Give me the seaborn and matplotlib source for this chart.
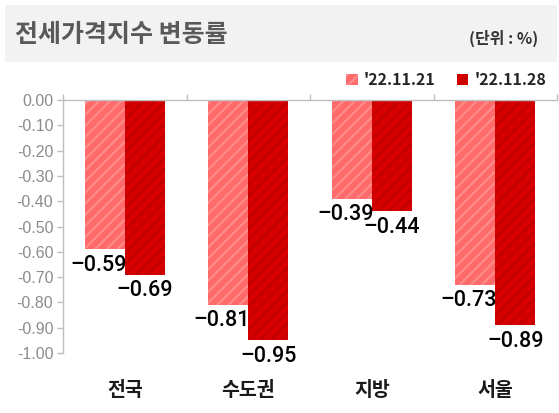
import pandas as pd
import matplotlib.pyplot as plt
import seaborn as sns
from matplotlib.patches import Rectangle, Patch

# 데이터
regions = ['전국', '수도권', '지방', '서울']
weeks = ["'22.11.21", "'22.11.28"]
week1 = [-0.59, -0.81, -0.39, -0.73]
week2 = [-0.69, -0.95, -0.44, -0.89]
yticks = [0.0, -0.1, -0.2, -0.3, -0.4, -0.5, -0.6, -0.7, -0.8, -0.9, -1.0]

df = pd.DataFrame({
    'region': regions * 2,
    'week': [weeks[0]] * 4 + [weeks[1]] * 4,
    'value': week1 + week2,
})

sns.set_style('white')
plt.rcParams['font.family'] = ['Noto Sans CJK KR', 'DejaVu Sans']
plt.rcParams['hatch.linewidth'] = 1.6

colores = ['#FF6B6B', '#D60000']
hatch_col = ['#FF8A8A', '#C20000']

fig = plt.figure(figsize=(5.59, 4.13), dpi=100)
ax = fig.add_axes([63 / 559, 1 - 353 / 413, 494 / 559, 253 / 413])

sns.barplot(data=df, x='region', y='value', hue='week', palette=colores,
            width=0.645, saturation=1, legend=False, ax=ax)

for i, cont in enumerate(ax.containers):
    for bar in cont:
        bar.set_hatch('///')
        bar.set_edgecolor(hatch_col[i])
        bar.set_linewidth(0)
    vals = week1 if i == 0 else week2
    dx = -4.5 if i == 0 else 0
    for bar, v in zip(cont, vals):
        ax.annotate(f'{v:.2f}'.replace('-', '\u2013'),
                    (bar.get_x() + bar.get_width() / 2, v),
                    xytext=(dx, -4), textcoords='offset points',
                    ha='center', va='top', fontsize=15.5, fontweight='medium',
                    family='Roboto', color='black')

ax.set_ylim(-1.0, 0.0)
ax.set_xlim(-0.5, 3.5)
ax.set_yticks(yticks)
ax.set_yticklabels([f'{t:.2f}' if t != 0 else '0.00' for t in yticks],
                   family=['Liberation Sans', 'DejaVu Sans'], fontsize=11.5,
                   color='#8C8C8C')
ax.set_xlabel('')
ax.set_ylabel('')

ax.set_xticks([-0.5, 0.5, 1.5, 2.5, 3.5], minor=True)
ax.tick_params(axis='x', which='major', length=0, pad=20, labelsize=14)
ax.tick_params(axis='x', which='minor', top=True, bottom=False,
               direction='out', length=4, color='#BFBFBF', width=1)
ax.tick_params(axis='y', left=True, direction='out', length=4,
               color='#BFBFBF', width=1, pad=3)
for lab in ax.get_xticklabels():
    lab.set_fontweight('bold')
    lab.set_color('#1A1A1A')

for s in ['right', 'bottom']:
    ax.spines[s].set_visible(False)
for s in ['left', 'top']:
    ax.spines[s].set_color('#BFBFBF')
    ax.spines[s].set_linewidth(1)

# 제목 영역
fig.patches.append(Rectangle((5 / 559, 1 - 62 / 413), 552 / 559, 57 / 413,
                             transform=fig.transFigure, facecolor='#F2F2F2',
                             edgecolor='none', zorder=0))
fig.text(15 / 559, 1 - 35 / 413, '전세가격지수 변동률', fontsize=18,
         fontweight='bold', color='#595959', va='center', ha='left')
fig.text(538 / 559, 1 - 38 / 413, '(단위 : %)', fontsize=11.5,
         fontweight='bold', color='#333333', va='center', ha='right')

handles = [Patch(facecolor=colores[i], edgecolor=hatch_col[i], hatch='///',
                 linewidth=0, label=weeks[i]) for i in range(2)]
leg = fig.legend(handles=handles, loc='center right',
                 bbox_to_anchor=(546 / 559, 1 - 80 / 413), ncol=2, frameon=False,
                 borderaxespad=0, borderpad=0,
                 handlelength=0.7, handleheight=0.7, handletextpad=0.4,
                 columnspacing=1.3, prop={'family': 'Noto Sans CJK KR',
                                          'weight': 'bold', 'size': 11.5})

fig.savefig('out.png', dpi=100)
